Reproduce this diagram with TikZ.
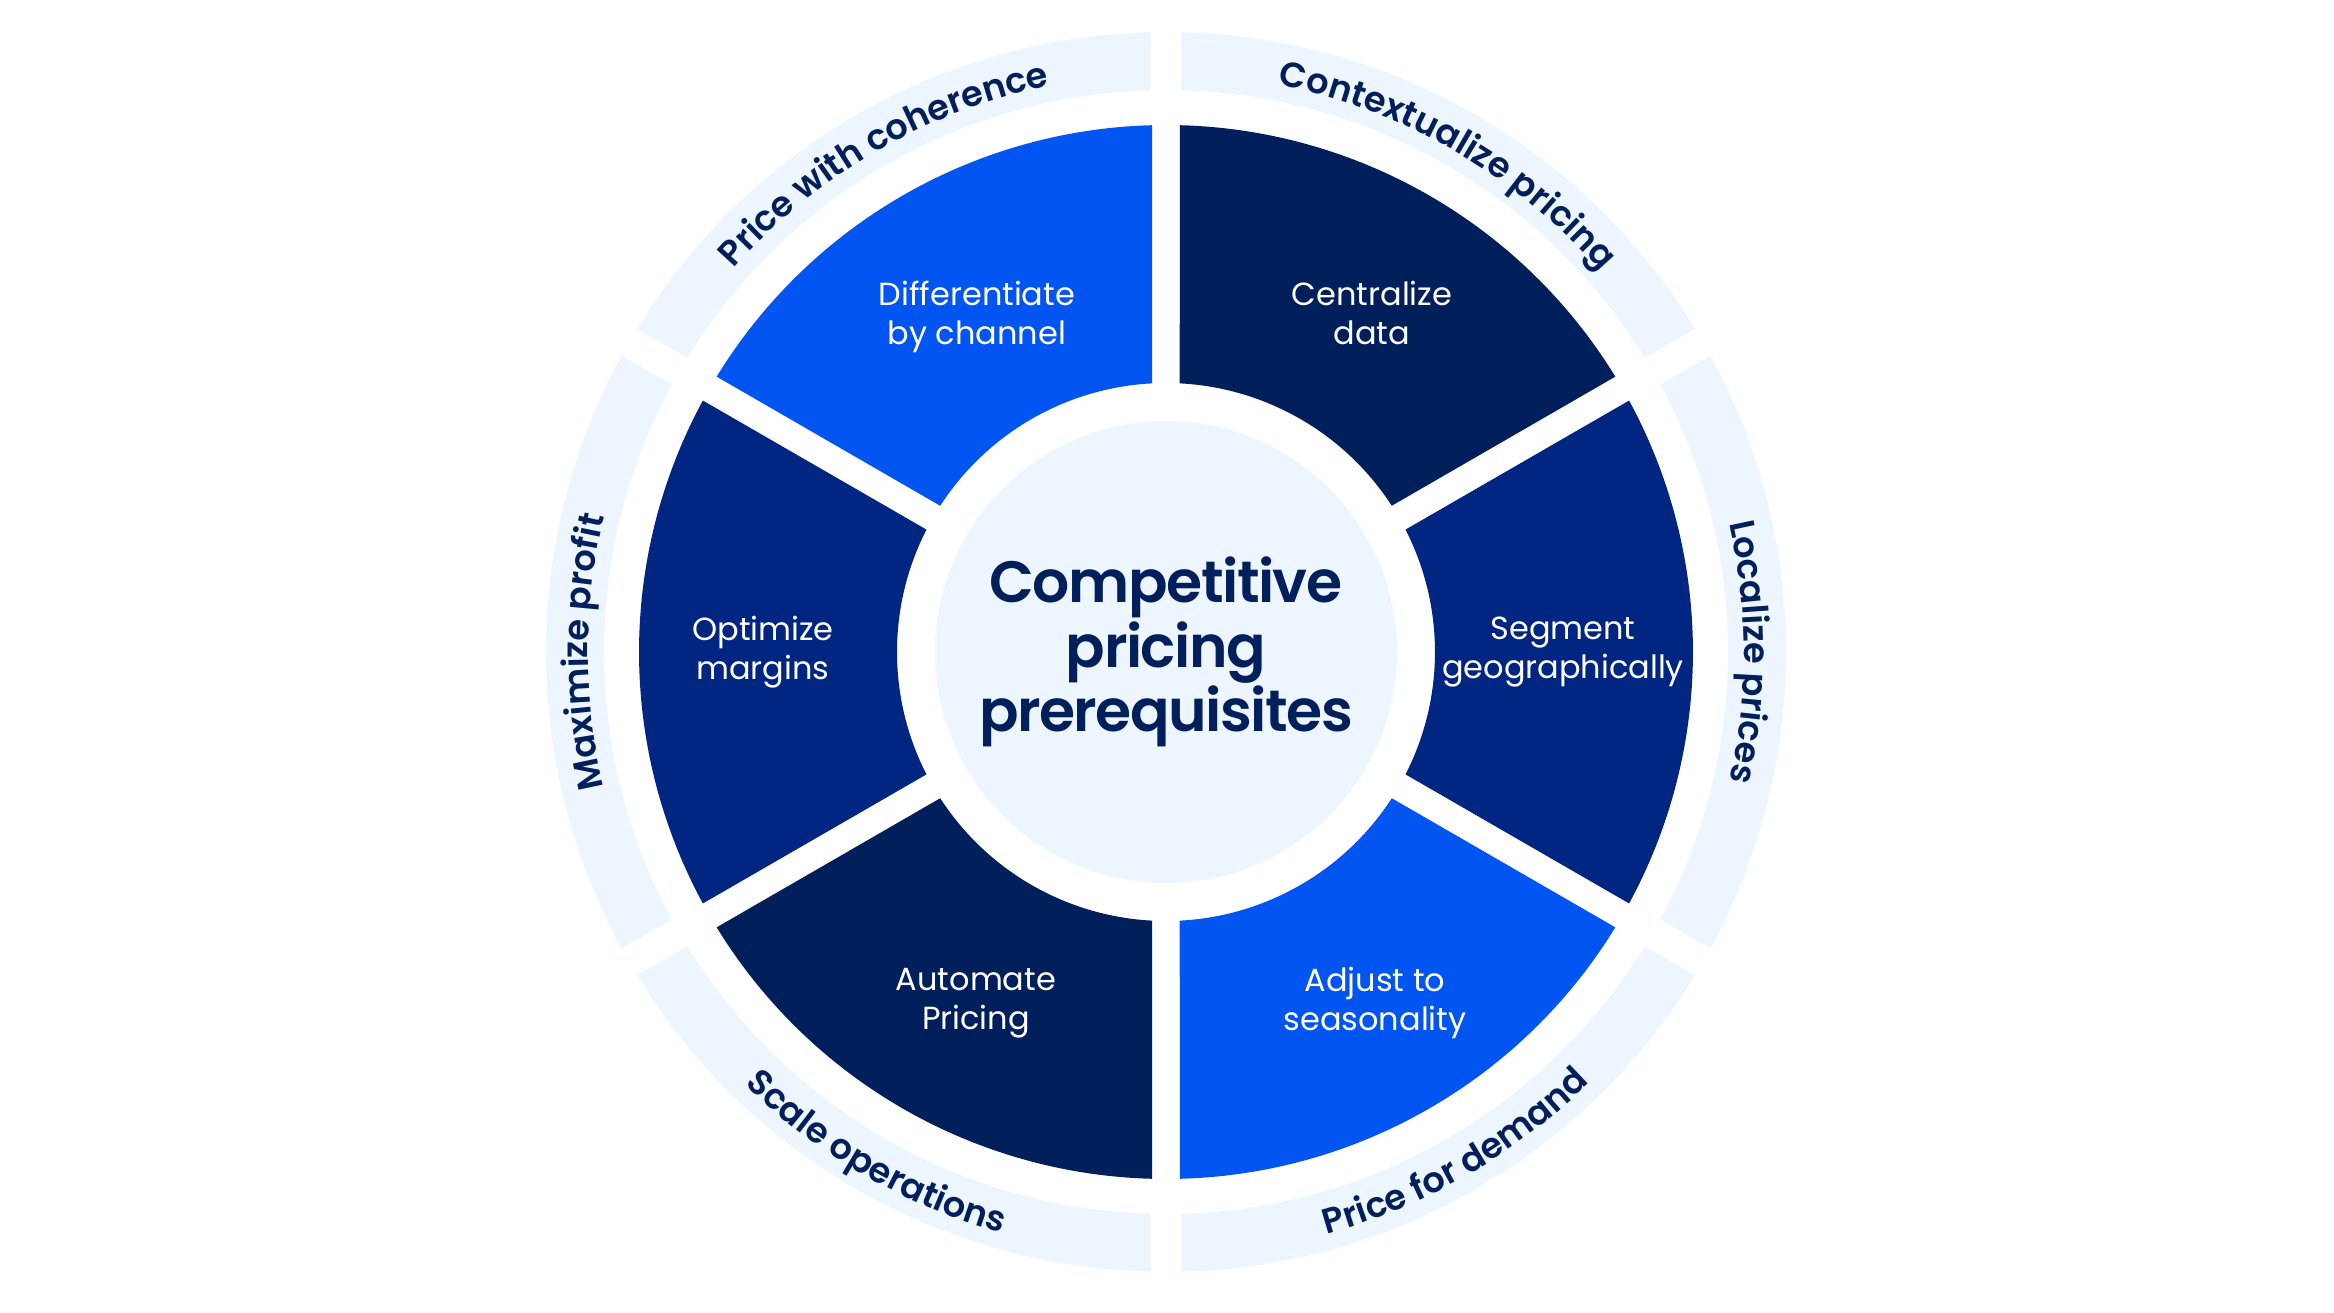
\documentclass[tikz,border=0pt]{standalone}
\usepackage{fontspec}
\setmainfont{Poppins}
\newfontfamily\semibold{Poppins SemiBold}
\newfontfamily\semititle{Poppins SemiBold}[LetterSpace=-2.5]
\usepackage{xcolor}
\usepackage{tikz}
\usetikzlibrary{decorations.text}

\definecolor{brightblue}{HTML}{0255F0}
\definecolor{navyblue}{HTML}{011F5A}
\definecolor{midblue}{HTML}{002682}
\definecolor{paleblue}{HTML}{EDF5FF}

\begin{document}
\begin{tikzpicture}[
        wedge/.style={draw=none},
        band/.style={fill=paleblue, draw=none},
        wedgelabel/.style={text=white, align=center, font=\fontsize{9.1}{11}\selectfont},
        hub/.style={circle, fill=paleblue, minimum size=4.62cm, inner sep=0pt},
        hubtext/.style={text=navyblue, align=center, font=\semititle\fontsize{16.6}{18.4}\selectfont},
        ringtext/.style={decorate, decoration={text along path, text align=center,
            text={|\semibold\fontsize{10}{12}\selectfont\color{navyblue}|#1}}}
    ]
    \useasboundingbox (-11.66,-6.61) rectangle (11.68,6.52);

    % Inner wedges
    \fill[wedge, brightblue] (91.5:5.27) arc[start angle=91.5, end angle=148.5, radius=5.27]
        -- (147.07:2.69) arc[start angle=147.07, end angle=92.93, radius=2.69] -- cycle;
    \fill[wedge, navyblue] (31.5:5.27) arc[start angle=31.5, end angle=88.5, radius=5.27]
        -- (87.07:2.69) arc[start angle=87.07, end angle=32.93, radius=2.69] -- cycle;
    \fill[wedge, midblue] (-28.5:5.27) arc[start angle=-28.5, end angle=28.5, radius=5.27]
        -- (27.07:2.69) arc[start angle=27.07, end angle=-27.07, radius=2.69] -- cycle;
    \fill[wedge, brightblue] (-88.5:5.27) arc[start angle=-88.5, end angle=-31.5, radius=5.27]
        -- (-32.93:2.69) arc[start angle=-32.93, end angle=-87.07, radius=2.69] -- cycle;
    \fill[wedge, navyblue] (-148.5:5.27) arc[start angle=-148.5, end angle=-91.5, radius=5.27]
        -- (-92.93:2.69) arc[start angle=-92.93, end angle=-147.07, radius=2.69] -- cycle;
    \fill[wedge, midblue] (151.5:5.27) arc[start angle=151.5, end angle=208.5, radius=5.27]
        -- (207.07:2.69) arc[start angle=207.07, end angle=152.93, radius=2.69] -- cycle;

    \node[wedgelabel] (channel) at (-1.89, 3.35) {Differentiate\\by channel};
    \node[wedgelabel] (data) at (2.06, 3.39) {Centralize\\data};
    \node[wedgelabel] (geo) at (3.97, 0) {Segment\\geographically};
    \node[wedgelabel] (margins) at (-4.03, 0) {Optimize\\margins};
    \node[wedgelabel] (automate) at (-1.9, -3.51) {Automate\\Pricing};
    \node[wedgelabel] (season) at (2.09, -3.51) {Adjust to\\seasonality};

    % Hub
    \node[hub] (hub) at (0,0) {};
    \node[hubtext] (title) at (hub.center) {Competitive\\pricing\\prerequisites};

    % Outer band
    \fill[band] (91.43:6.2) arc[start angle=91.43, end angle=148.57, radius=6.2]
        -- (148.42:5.62) arc[start angle=148.42, end angle=91.58, radius=5.62] -- cycle;
    \fill[band] (31.43:6.2) arc[start angle=31.43, end angle=88.57, radius=6.2]
        -- (88.42:5.62) arc[start angle=88.42, end angle=31.58, radius=5.62] -- cycle;
    \fill[band] (-28.57:6.2) arc[start angle=-28.57, end angle=28.57, radius=6.2]
        -- (28.42:5.62) arc[start angle=28.42, end angle=-28.42, radius=5.62] -- cycle;
    \fill[band] (-88.57:6.2) arc[start angle=-88.57, end angle=-31.43, radius=6.2]
        -- (-31.58:5.62) arc[start angle=-31.58, end angle=-88.42, radius=5.62] -- cycle;
    \fill[band] (-148.57:6.2) arc[start angle=-148.57, end angle=-91.43, radius=6.2]
        -- (-91.58:5.62) arc[start angle=-91.58, end angle=-148.42, radius=5.62] -- cycle;
    \fill[band] (151.43:6.2) arc[start angle=151.43, end angle=208.57, radius=6.2]
        -- (208.42:5.62) arc[start angle=208.42, end angle=151.58, radius=5.62] -- cycle;

    \path[ringtext={Price with coherence}] (150:5.78) arc[start angle=150, end angle=90, radius=5.78];
    \path[ringtext={Contextualize pricing}] (90:5.78) arc[start angle=90, end angle=30, radius=5.78];
    \path[ringtext={Localize prices}] (30:5.78) arc[start angle=30, end angle=-30, radius=5.78];
    \path[ringtext={Price for demand}] (-90:6.04) arc[start angle=-90, end angle=-30, radius=6.04];
    \path[ringtext={Scale operations}] (-150:6.04) arc[start angle=-150, end angle=-90, radius=6.04];
    \path[ringtext={Maximize profit}] (210:5.78) arc[start angle=210, end angle=150, radius=5.78];

\end{tikzpicture}
\end{document}
